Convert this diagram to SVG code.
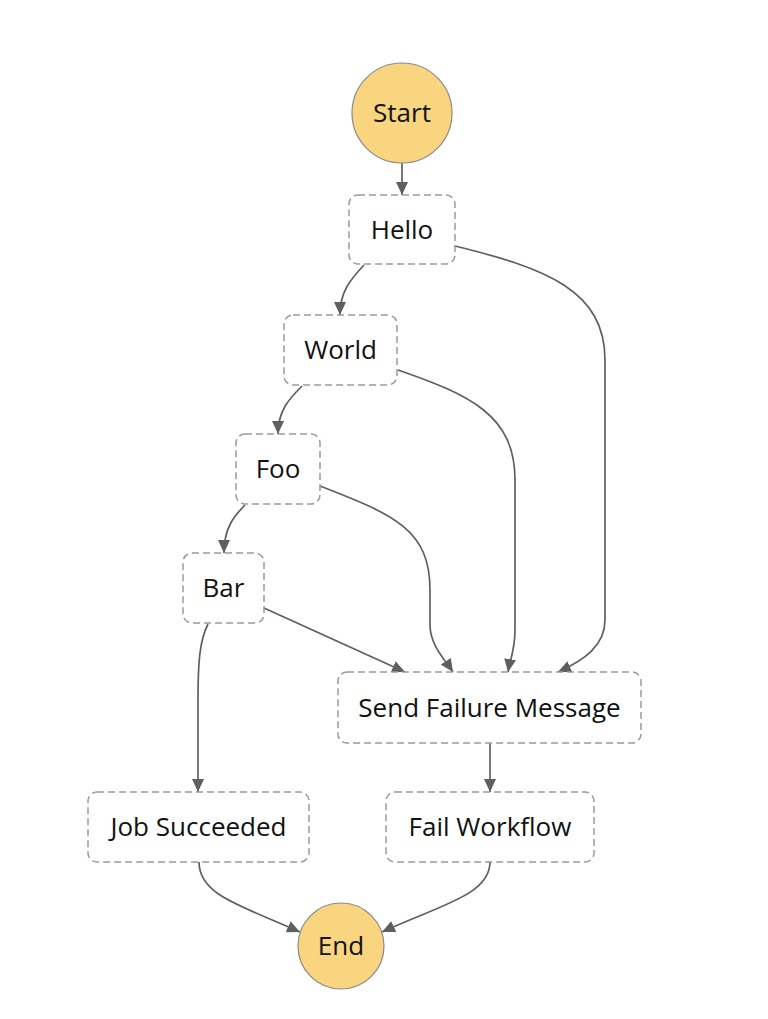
<svg xmlns="http://www.w3.org/2000/svg" width="768" height="1019" viewBox="0 0 768 1019">
<style>
.box{fill:#fff;stroke:#9a9a9a;stroke-width:1.5;stroke-dasharray:7 4}
.circ{fill:#f8d57e;stroke:#8a8a8a;stroke-width:1.2}
.lbl{font-family:"Open Sans","Noto Sans",sans-serif;font-size:26px;fill:#111;text-anchor:middle}
.edge{fill:none;stroke:#5f5f5f;stroke-width:1.7;marker-end:url(#arr)}
</style>
<defs>
<marker id="arr" markerUnits="userSpaceOnUse" markerWidth="14" markerHeight="12" refX="13" refY="6" orient="auto">
<path d="M0,0 L13,6 L0,12 z" fill="#5f5f5f"/>
</marker>
</defs>
<rect width="768" height="1019" fill="#fff"/>
<g id="connectors">
<path class="edge" d="M402,163 L402,195"/>
<path class="edge" d="M364,265 C350,280 340,292 340,315"/>
<path class="edge" d="M302,386 C290,398 278,410 278,434"/>
<path class="edge" d="M245,505 C234,516 224,528 224,553"/>
<path class="edge" d="M455,246 C545,268 605,290 605,360 L605,620 C605,645 585,660 558,672"/>
<path class="edge" d="M398,370 C470,395 515,415 515,480 L515,630 C515,650 510,660 508,672"/>
<path class="edge" d="M320,486 C395,515 430,530 430,590 L430,625 C430,645 445,660 453,672"/>
<path class="edge" d="M264,608 L405,672"/>
<path class="edge" d="M208,624 C200,640 198,660 198,700 L198,792"/>
<path class="edge" d="M490,743 L490,792"/>
<path class="edge" d="M199,862 C199,895 240,905 300,932"/>
<path class="edge" d="M490,862 C490,895 440,905 382,932"/>
</g>
<g id="start"><circle class="circ" cx="402" cy="113" r="50"/><text class="lbl" x="402" y="122">Start</text></g>
<g id="hello"><rect class="box" x="349" y="195" width="106" height="69" rx="9"/><text class="lbl" x="402" y="239">Hello</text></g>
<g id="world"><rect class="box" x="284" y="315" width="113" height="70" rx="9"/><text class="lbl" x="340.5" y="359">World</text></g>
<g id="foo"><rect class="box" x="236" y="434" width="84" height="70" rx="9"/><text class="lbl" x="278" y="478">Foo</text></g>
<g id="bar"><rect class="box" x="183" y="553" width="81" height="70" rx="9"/><text class="lbl" x="223.5" y="597">Bar</text></g>
<g id="send-failure"><rect class="box" x="338" y="672" width="303" height="71" rx="9"/><text class="lbl" x="489.5" y="716.5">Send Failure Message</text></g>
<g id="job-succeeded"><rect class="box" x="88" y="792" width="221" height="70" rx="9"/><text class="lbl" x="198.5" y="836">Job Succeeded</text></g>
<g id="fail-workflow"><rect class="box" x="386" y="792" width="208" height="70" rx="9"/><text class="lbl" x="490" y="836">Fail Workflow</text></g>
<g id="end"><circle class="circ" cx="341" cy="946" r="43"/><text class="lbl" x="341" y="955">End</text></g>
</svg>
